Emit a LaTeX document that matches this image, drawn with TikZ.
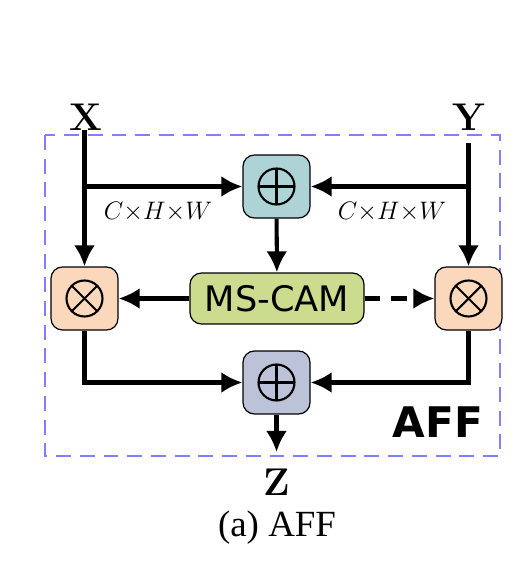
\documentclass[tikz,border=0pt]{standalone}
\usepackage{fontspec}
\usetikzlibrary{arrows.meta}
\newfontfamily\capfont{Liberation Serif}
\newfontfamily\samfont{DejaVu Sans}
\definecolor{addtop}{HTML}{ADD3D6}
\definecolor{addbot}{HTML}{BCC3D8}
\definecolor{mulfill}{HTML}{FBD8BC}
\definecolor{camfill}{HTML}{CCDC8E}
\definecolor{framecol}{HTML}{8080FF}
\begin{document}
\begin{tikzpicture}[x=0.02cm,y=-0.02cm,
  opbox/.style={draw,line width=0.7pt,rounded corners=6.5pt,minimum width=1.34cm,minimum height=1.26cm,inner sep=0pt},
  addop/.style={opbox,path picture={
    \draw[line width=1.2pt] (path picture bounding box.center) circle (0.36cm);
    \draw[line width=1.2pt] ([xshift=-0.36cm]path picture bounding box.center) -- ([xshift=0.36cm]path picture bounding box.center);
    \draw[line width=1.2pt] ([yshift=-0.36cm]path picture bounding box.center) -- ([yshift=0.36cm]path picture bounding box.center);}},
  mulop/.style={opbox,fill=mulfill,path picture={
    \draw[line width=1.2pt] (path picture bounding box.center) circle (0.36cm);
    \draw[line width=1.2pt] ([shift={(-0.255cm,-0.255cm)}]path picture bounding box.center) -- ([shift={(0.255cm,0.255cm)}]path picture bounding box.center);
    \draw[line width=1.2pt] ([shift={(-0.255cm,0.255cm)}]path picture bounding box.center) -- ([shift={(0.255cm,-0.255cm)}]path picture bounding box.center);}},
  cambox/.style={draw,line width=0.7pt,rounded corners=6.5pt,minimum width=3.48cm,minimum height=1.02cm,inner sep=0pt,fill=camfill,font=\samfont\fontsize{20}{20}\selectfont},
  io/.style={font=\fontsize{22}{22}\selectfont\bfseries},
  dims/.style={font=\fontsize{15}{15}\selectfont},
  arr/.style={line width=2.3pt,-{Latex[length=12pt,width=12pt]}}]
\useasboundingbox (0,0) rectangle (526,564);
% dashed frame of the block
\draw[framecol,line width=1.1pt,dash pattern=on 8.5pt off 5pt] (45,135) rectangle (500,456);
\node[io] (x) at (86,117) {X};
\node[io] (y) at (469,117) {Y};
\coordinate (xtop) at (84.5,130);
\coordinate (ytop) at (468.5,143);
\node[addop,fill=addtop] (add1) at (276.5,186.5) {};
\node[cambox] (cam) at (277,298.5) {MS-CAM};
\node[mulop] (mulL) at (84.5,298.5) {};
\node[mulop] (mulR) at (468.5,298.5) {};
\node[addop,fill=addbot] (add2) at (276.5,382.5) {};
\coordinate (zend) at (276.5,452);
\node[io] (z) at (277,482) {Z};
\node[dims] (dimL) at (158,212) {$C{\times}H{\times}W$};
\node[dims] (dimR) at (392,212) {$C{\times}H{\times}W$};
\node[font=\samfont\fontsize{24}{24}\selectfont\bfseries] (aff) at (438,422) {AFF};
\node[font=\capfont\fontsize{21}{21}\selectfont] (cap) at (277,528) {(a) AFF};
% connectors
\draw[arr] (xtop) -- (mulL);
\draw[arr] (ytop) -- (mulR);
\draw[arr] (xtop |- add1) -- (add1);
\draw[arr] (ytop |- add1) -- (add1);
\draw[arr] (add1) -- (cam);
\draw[arr] (cam) -- (mulL);
\draw[arr,dash pattern=on 9pt off 6pt] (cam) -- (mulR);
\draw[arr] (mulL) |- (add2);
\draw[arr] (mulR) |- (add2);
\draw[arr] (add2) -- (zend);
\end{tikzpicture}
\end{document}
